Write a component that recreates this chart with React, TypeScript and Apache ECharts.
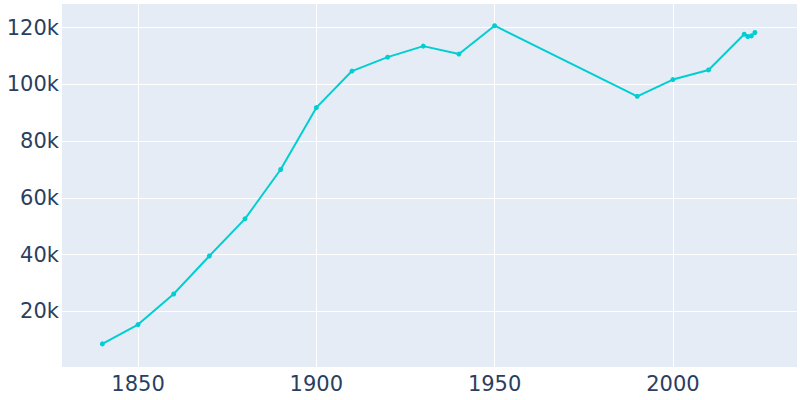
import React, { useEffect, useRef } from "react";
import * as echarts from "echarts";

const years = [1840, 1850, 1860, 1870, 1880, 1890, 1900, 1910, 1920, 1930, 1940, 1950, 1990, 2000, 2010, 2020, 2021, 2022, 2023];
const population = [8500, 15300, 26100, 39500, 52600, 70000, 91800, 104700, 109600, 113500, 110700, 120700, 95800, 101700, 105100, 117700, 116900, 117100, 118300];

export default function App() {
  const ref = useRef<HTMLDivElement>(null);
  useEffect(() => {
    if (!ref.current) return;
    const chart = echarts.init(ref.current, undefined, { renderer: "svg" });
    const font = "DejaVu Sans";
    chart.setOption({
      animation: false,
      backgroundColor: "#ffffff",
      grid: {
        left: 61,
        right: 3,
        top: 3,
        bottom: 33,
        show: true,
        backgroundColor: "#e5ecf6",
        borderWidth: 0,
      },
      xAxis: {
        type: "value",
        min: 1828.4,
        max: 2034.8,
        splitNumber: 5,
        axisLine: { show: false },
        axisTick: { show: false },
        splitLine: { show: true, lineStyle: { color: "#ffffff", width: 1 } },
        axisLabel: {
          color: "#2a3f5f",
          fontFamily: font,
          fontSize: 21,
          margin: 6,
          formatter: (v: number) => (Math.abs(v % 50) < 1e-6 ? String(v) : ""),
        },
      },
      yAxis: {
        type: "value",
        min: 350,
        max: 128700,
        splitNumber: 6,
        axisLine: { show: false },
        axisTick: { show: false },
        splitLine: { show: true, lineStyle: { color: "#ffffff", width: 1 } },
        axisLabel: {
          color: "#2a3f5f",
          fontFamily: font,
          fontSize: 21,
          margin: 2,
          formatter: (v: number) => (Math.abs(v % 20000) < 1e-6 ? v / 1000 + "k" : ""),
        },
      },
      series: [
        {
          type: "line",
          data: years.map((y, i) => [y, population[i]]),
          symbol: "circle",
          symbolSize: 5,
          lineStyle: { color: "#00ced1", width: 2 },
          itemStyle: { color: "#00ced1" },
        },
      ],
    });
    return () => chart.dispose();
  }, []);
  return <div ref={ref} style={{ width: 800, height: 400, position: "absolute", left: 0, top: 0 }} />;
}
